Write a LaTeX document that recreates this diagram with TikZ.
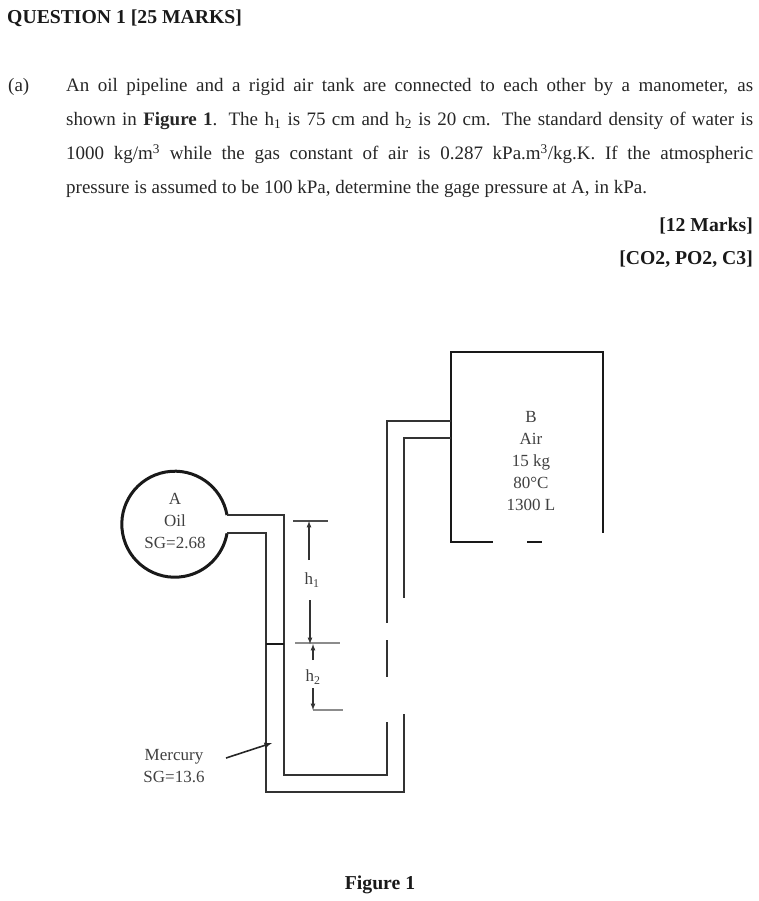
\documentclass[tikz,border=0pt]{standalone}
\usepackage{fontspec}
\setmainfont{Liberation Serif}
\usepackage{tikz}
\usetikzlibrary{arrows, positioning}

\tikzset{
  body/.style={anchor=base west, inner sep=0pt, font=\fontsize{19}{22}\selectfont, text=black!85},
  bodybold/.style={inner sep=0pt, font=\fontsize{19.7}{22}\selectfont\bfseries, text=black!90},
  lbl/.style={inner sep=0pt, align=center, font=\fontsize{17}{22}\selectfont, text=black!75},
  tankline/.style={line width=2.5pt, black!90},
  pipe/.style={line width=1.6pt, black!80},
  tick/.style={line width=1.2pt, black!45},
  dim/.style={-latex, line width=1.2pt, black!80}
}

\begin{document}
\begin{tikzpicture}[x=1pt, y=-1pt]
\useasboundingbox (0,0) rectangle (759,901);

% question text
\node [bodybold, anchor=base west] (title) at (7,24) {QUESTION 1 [25 MARKS]};
\node [body] (part) at (8,92) {(a)};
\node [body] (one) at (66,92) {\makebox[687pt][s]{An oil pipeline and a rigid air tank are connected to each other by a manometer, as}};
\node [body] (two) at (66,126) {\makebox[687pt][s]{shown in \textbf{Figure 1}. The h\textsubscript{1} is 75 cm and h\textsubscript{2} is 20 cm. The standard density of water is}};
\node [body] (three) at (66,160) {\makebox[687pt][s]{1000 kg/m\textsuperscript{3} while the gas constant of air is 0.287 kPa.m\textsuperscript{3}/kg.K. If the atmospheric}};
\node [body] (four) at (66,194) {pressure is assumed to be 100 kPa, determine the gage pressure at A, in kPa.};
\node [bodybold, anchor=base east] (marks) at (753,231) {[12 Marks]};
\node [bodybold, anchor=base east] (co) at (753,264) {[CO2, PO2, C3]};

% nodes
\node [lbl] (A) at (175,521) {A\\Oil\\SG=2.68};
\node [lbl] (B) at (531,461) {B\\Air\\15 kg\\80°C\\1300 L};
\node [lbl] (hone) at (312,580) {h\textsubscript{1}};
\node [lbl] (htwo) at (313,677) {h\textsubscript{2}};
\node [lbl] (merc) at (174,766) {Mercury\\SG=13.6};
\node [bodybold] (fig) at (380,885) {Figure 1};

\coordinate (hone top) at (309,521);
\coordinate (hone low) at (310,644);
\coordinate (htwo top) at (313,644);
\coordinate (htwo low) at (313,710);
\coordinate (merc end) at (272,743);

% oil pipe and tank
\draw [tankline, line width=3pt] (227,515) arc [start angle=-10, end angle=-350, radius=53];
\draw [tankline] (451,421) -- (451,542) -- (493,542);
\draw [tankline] (527,542) -- (542,542);
\draw [tankline] (451,421) -- (451,352) -- (603,352) -- (603,533);

% manometer tube
\draw [pipe] (227,515) -- (284,515) -- (284,775) -- (387,775) -- (387,722);
\draw [pipe] (227,533) -- (266,533) -- (266,792) -- (404,792) -- (404,714);
\draw [pipe] (451,421) -- (387,421) -- (387,623);
\draw [pipe] (387,640) -- (387,677);
\draw [pipe] (451,438) -- (404,438) -- (404,598);
\draw [tankline] (266,644) -- (284,644);

% ticks
\draw [tick, black!70] (293,521) -- (328,521);
\draw [tick] (295,643) -- (340,643);
\draw [tick] (313,710) -- (343,710);

% arrows
\draw [dim] (309,560) -- (hone top);
\draw [dim] (310,600) -- (hone low);
\draw [dim] (313,660) -- (htwo top);
\draw [dim] (313,688) -- (htwo low);
\draw [-latex, line width=1.6pt, black!85] (226,758) -- (merc end);

\end{tikzpicture}
\end{document}
